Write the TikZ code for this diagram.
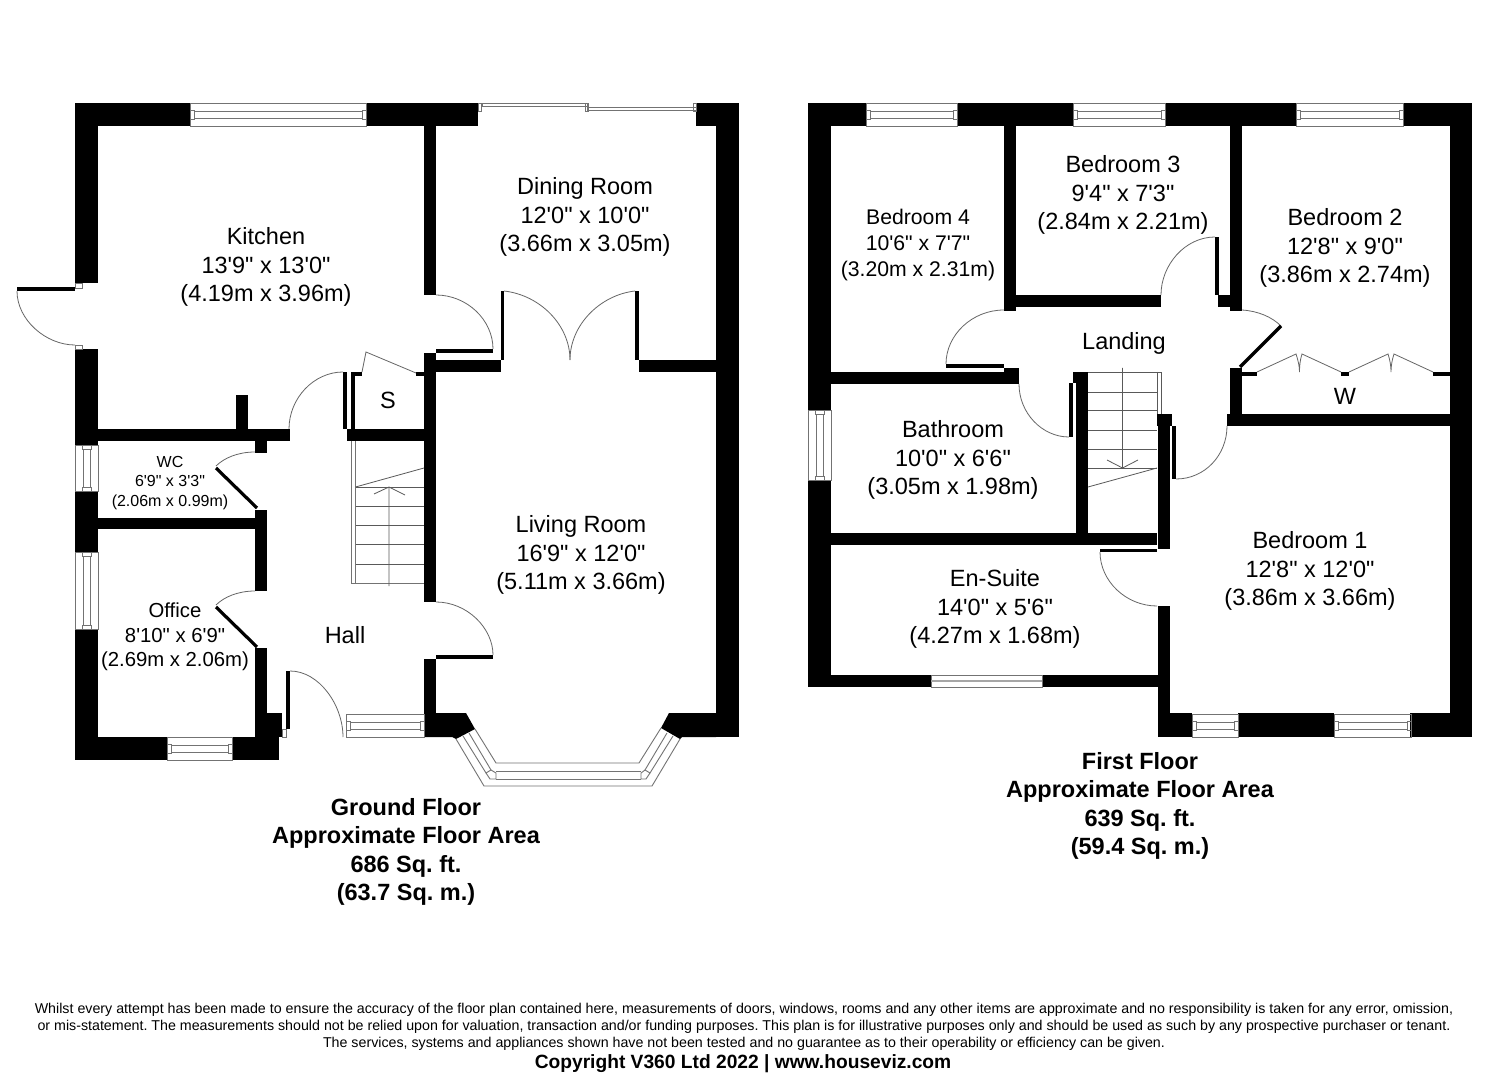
\documentclass[tikz,border=0pt]{standalone}
\usepackage{fontspec}
\setmainfont{Liberation Sans}[Ligatures=TeXOff]
\frenchspacing

\tikzset{
  wall/.style={fill=black},
  leaf/.style={draw=black, line width=1.6pt},
  swing/.style={draw=black!60, line width=0.4pt},
  glaze/.style={draw=black!55, line width=0.45pt},
  tread/.style={draw=black!65, line width=0.4pt},
  room/.style={align=center, inner sep=0pt, font=\fontsize{11.75}{14.2}\selectfont},
  midroom/.style={align=center, inner sep=0pt, font=\fontsize{10.6}{13.2}\selectfont},
  snugroom/.style={align=center, inner sep=0pt, font=\fontsize{10.15}{12.3}\selectfont},
  tinyroom/.style={align=center, inner sep=0pt, font=\fontsize{8}{9.7}\selectfont},
  floorname/.style={align=center, inner sep=0pt, font=\bfseries\fontsize{11.75}{14.1}\selectfont},
}

% window in a wall running across / up the page
\newcommand{\crosspane}[3]{
  \draw[glaze] (#1,#3) rectangle (#2,#3+23);
  \draw[glaze] (#1+4,#3+8) rectangle (#2-4,#3+15);
  \draw[glaze] (#1,#3+7) rectangle (#1+4,#3+16);
  \draw[glaze] (#2-4,#3+7) rectangle (#2,#3+16);
}
\newcommand{\uppane}[3]{
  \draw[glaze] (#3,#1) rectangle (#3+23,#2);
  \draw[glaze] (#3+8,#1+4) rectangle (#3+15,#2-4);
  \draw[glaze] (#3+7,#1) rectangle (#3+16,#1+4);
  \draw[glaze] (#3+7,#2-4) rectangle (#3+16,#2);
}

\begin{document}
\begin{tikzpicture}[x=0.5pt, y=-0.5pt]
  \fill[white] (0,0) rectangle (1489,1080);
  \useasboundingbox (0,0) rectangle (1489,1080);

  % ground floor walls
  \foreach \xa/\ya/\xb/\yb in {75/103/190/126, 366/103/478/126, 696/103/739/126,
      75/126/98/283, 75/349/98/445, 75/491/98/552, 75/629/98/760,
      98/737/167/760, 232/737/279/760, 98/429/290/441, 236/395/248/429,
      255/441/267/453, 98/518/267/529, 255/510/267/591, 255/648/267/737,
      267/713/282/737, 424/126/436/295, 424/353/436/602, 424/659/436/737,
      436/360/501/372, 639/360/716/372, 716/126/739/737,
      351/372/355/429, 355/372/362/376, 347/429/424/441, 416/372/424/376,
      343/372/347/429, 17/287/75/291, 436/349/493/353, 436/655/493/659,
      286/671/290/729, 501/291/504/360, 635/291/639/360}
    \fill[wall] (\xa,\ya) rectangle (\xb,\yb);
  \fill[wall] (424,713) -- (466,713) -- (475,729) -- (456,739) -- (452,737) -- (424,737) -- cycle;
  \fill[wall] (716,713) -- (669,713) -- (661,728) -- (680,739) -- (682,737) -- (716,737) -- cycle;

  % ground floor doors
  \draw[swing] (17,291) .. controls (17,320) and (46,345) .. (75,345);
  \draw[swing] (436,295) .. controls (467,295) and (493,320) .. (493,349);
  \draw[swing] (504,291) .. controls (540,295) and (570,325) .. (570,360);
  \draw[swing] (635,291) .. controls (600,295) and (570,325) .. (570,360);
  \draw[swing] (289,429) .. controls (289,398) and (314,372) .. (343,372);
  \draw[swing] (216,466) .. controls (224,458) and (238,452) .. (255,452);
  \draw[swing] (216,605) .. controls (224,597) and (238,591) .. (255,591);
  \draw[swing] (436,602) .. controls (467,602) and (493,628) .. (493,655);
  \draw[swing] (290,671) .. controls (319,671) and (343,705) .. (343,737);
  \draw[swing] (362,372) -- (366,352) -- (416,373);
  \draw[leaf] (216,468) -- (257,508);
  \draw[leaf] (216,607) -- (257,647);
  \draw[glaze] (75,283) rectangle (82,288);
  \draw[glaze] (75,345) rectangle (82,349);
  \draw[glaze] (282,729) rectangle (286,737);

  % ground floor windows
  \crosspane{190}{366}{103}
  \crosspane{167}{232}{737}
  \crosspane{346}{424}{714}
  \uppane{445}{491}{75}
  \uppane{552}{629}{75}
  \draw[glaze] (482,103) rectangle (587,106);
  \draw[glaze] (587,107) rectangle (696,110);
  \foreach \xa in {478,585,693}
    \draw[glaze] (\xa,103) rectangle (\xa+3,111);
  \draw[glaze] (456,739) -- (484,786) -- (652,786) -- (680,739);
  \draw[glaze] (475,729) -- (496,763) -- (639,763) -- (661,728);
  \draw[glaze] (496,771) -- (641,771) (496,779) -- (641,779);
  \draw[glaze] (463,736) -- (486,773) (469,733) -- (491,770);
  \draw[glaze] (673,736) -- (650,773) (667,733) -- (645,770);
  \draw[glaze] (486,773) -- (491,770) -- (496,773) -- (496,779) -- (490,779) -- cycle;
  \draw[glaze] (650,773) -- (645,770) -- (641,773) -- (641,779) -- (646,779) -- cycle;

  % ground floor stairs
  \draw[glaze] (351,441) -- (351,583) -- (424,583);
  \draw[glaze] (355.5,441) -- (355.5,583);
  \foreach \ya in {487,506,525,544,564}
    \draw[tread] (355.5,\ya) -- (424,\ya);
  \draw[tread] (355.5,487) -- (424,468);
  \draw[tread] (389,586) -- (389,487) (374,494) -- (389,487) -- (405,495);

  % first floor walls
  \foreach \xa/\ya/\xb/\yb in {808/103/866/126, 957/103/1073/126, 1165/103/1296/126, 1403/103/1472/126,
      808/126/831/410, 808/480/831/687, 831/675/931/687, 1042/675/1158/687,
      1004/126/1016/311, 1016/295/1161/307, 1218/295/1230/307, 1230/126/1242/311,
      1215/237/1219/295, 1230/368/1242/414, 1227/414/1450/426, 1450/126/1472/737,
      1242/372/1257/376, 1341/372/1349/376, 1433/372/1450/376,
      831/372/1019/384, 1004/368/1019/372, 946/364/1004/368,
      1073/372/1088/383, 1076/383/1088/533, 1069/383/1073/437,
      1157/414/1172/426, 1158/426/1170/549, 1172/426/1176/479,
      831/533/1157/545, 1100/549/1157/552, 1158/606/1170/737,
      1170/713/1192/737, 1238/713/1334/737, 1410/713/1450/737}
    \fill[wall] (\xa,\ya) rectangle (\xb,\yb);

  % first floor doors
  \draw[swing] (946,364) .. controls (946,335) and (972,310) .. (1004,310);
  \draw[swing] (1161,295) .. controls (1161,265) and (1185,237) .. (1215,237);
  \draw[swing] (1242,310) .. controls (1258,311) and (1272,317) .. (1281,326);
  \draw[swing] (1019,384) .. controls (1019,413) and (1042,437) .. (1069,437);
  \draw[swing] (1176,479) .. controls (1205,479) and (1227,455) .. (1227,426);
  \draw[swing] (1100,552) .. controls (1100,581) and (1126,606) .. (1157,606);
  \draw[leaf] (1281,326) -- (1240,367);

  % wardrobe doors
  \draw[swing] (1257,372) -- (1296,354) .. controls (1298,360) and (1299.5,366) .. (1299.5,372)
    .. controls (1299.5,366) and (1300,360) .. (1302,354) -- (1341,372);
  \draw[swing] (1349,372) -- (1388,354) .. controls (1390,360) and (1391,366) .. (1391,372)
    .. controls (1391,366) and (1392,360) .. (1394,354) -- (1433,372);

  % first floor windows
  \crosspane{866}{957}{103}
  \crosspane{1073}{1165}{103}
  \crosspane{1296}{1403}{103}
  \crosspane{1192}{1238}{714}
  \crosspane{1334}{1411}{714}
  \uppane{410}{480}{808}
  \draw[glaze] (931,675) rectangle (1042,687);
  \draw[glaze, line width=0.9pt, black!35] (931,681) -- (1042,681);

  % first floor stairs
  \draw[tread] (1088,372) -- (1161,372) -- (1161,414);
  \draw[tread] (1157,372) -- (1157,414);
  \foreach \ya in {392,410,430,449,468}
    \draw[tread] (1088,\ya) -- (1157,\ya);
  \draw[tread] (1088,487) -- (1157,468);
  \draw[tread] (1122.5,368) -- (1122.5,468) (1107,460) -- (1122.5,468) -- (1138,460);

  % ground floor labels
  \node[room] (kitchen) at (266,267) {Kitchen\\13'9" x 13'0"\\(4.19m x 3.96m)};
  \node[room] (dining) at (585,217) {Dining Room\\12'0" x 10'0"\\(3.66m x 3.05m)};
  \node[room] (living) at (581,555) {Living Room\\16'9" x 12'0"\\(5.11m x 3.66m)};
  \node[room] (hall) at (345,635) {Hall};
  \node[snugroom] (office) at (175,637) {Office\\8'10" x 6'9"\\(2.69m x 2.06m)};
  \node[tinyroom] (wc) at (170,483) {WC\\6'9" x 3'3"\\(2.06m x 0.99m)};
  \node[room] (store) at (388,400) {S};
  \node[floorname] (ground) at (406,852) {Ground Floor\\Approximate Floor Area\\686 Sq. ft.\\(63.7 Sq. m.)};

  % first floor labels
  \node[midroom] (bedfour) at (918,245) {Bedroom 4\\10'6" x 7'7"\\(3.20m x 2.31m)};
  \node[room] (bedthree) at (1123,195) {Bedroom 3\\9'4" x 7'3"\\(2.84m x 2.21m)};
  \node[room] (bedtwo) at (1345,248) {Bedroom 2\\12'8" x 9'0"\\(3.86m x 2.74m)};
  \node[room] (landing) at (1124,343) {Landing};
  \node[room] (bathroom) at (953,460) {Bathroom\\10'0" x 6'6"\\(3.05m x 1.98m)};
  \node[room] (ensuite) at (995,609) {En-Suite\\14'0" x 5'6"\\(4.27m x 1.68m)};
  \node[room] (bedone) at (1310,571) {Bedroom 1\\12'8" x 12'0"\\(3.86m x 3.66m)};
  \node[room] (robe) at (1345,396) {W};
  \node[floorname] (first) at (1140,806) {First Floor\\Approximate Floor Area\\639 Sq. ft.\\(59.4 Sq. m.)};

  % small print
  \node[align=center, inner sep=0pt, font=\fontsize{7.12}{8.5}\selectfont] (notice) at (744,1027)
    {Whilst every attempt has been made to ensure the accuracy of the floor plan contained here, measurements of doors, windows, rooms and any other items are approximate and no responsibility is taken for any error, omission,\\
     or mis-statement. The measurements should not be relied upon for valuation, transaction and/or funding purposes. This plan is for illustrative purposes only and should be used as such by any prospective purchaser or tenant.\\
     The services, systems and appliances shown have not been tested and no guarantee as to their operability or efficiency can be given.};
  \node[inner sep=0pt, font=\bfseries\fontsize{9.6}{11}\selectfont] (copyright) at (743,1064) {Copyright V360 Ltd 2022 | www.houseviz.com};
\end{tikzpicture}
\end{document}
